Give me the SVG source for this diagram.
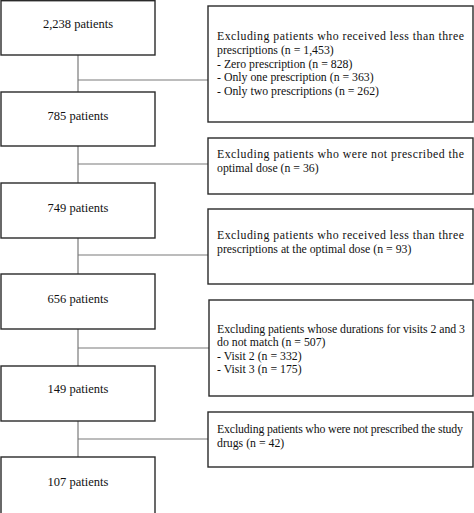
<svg xmlns="http://www.w3.org/2000/svg" width="474" height="513" viewBox="0 0 474 513">
<style>
.box{fill:#fff;stroke:#2a2a2a;stroke-width:1.4}
.ln{fill:none;stroke:#7a7a7a;stroke-width:1.2}
text{font-family:"Liberation Serif","Times New Roman",serif;font-size:11.8px;fill:#111}
.c{text-anchor:middle;font-size:12.5px}
</style>
<rect width="474" height="513" fill="#fff"/>
<g id="connectors">
<line class="ln" x1="78" y1="55" x2="78" y2="92"/>
<line class="ln" x1="78" y1="80" x2="208" y2="80"/>
<line class="ln" x1="78" y1="146" x2="78" y2="183"/>
<line class="ln" x1="78" y1="164" x2="208" y2="164"/>
<line class="ln" x1="78" y1="238" x2="78" y2="274"/>
<line class="ln" x1="78" y1="255" x2="208" y2="255"/>
<line class="ln" x1="78" y1="329" x2="78" y2="366"/>
<line class="ln" x1="78" y1="348" x2="209" y2="348"/>
<line class="ln" x1="78" y1="421" x2="78" y2="457"/>
<line class="ln" x1="78" y1="439" x2="208" y2="439"/>
</g>
<g id="n1"><rect class="box" x="1" y="0.7" width="154" height="54.3"/><text class="c" x="78" y="28">2,238 patients</text></g>
<g id="n2"><rect class="box" x="1" y="92" width="154" height="54"/><text class="c" x="78" y="120">785 patients</text></g>
<g id="n3"><rect class="box" x="1" y="183" width="154" height="55"/><text class="c" x="78" y="212">749 patients</text></g>
<g id="n4"><rect class="box" x="1" y="274" width="154" height="55"/><text class="c" x="78" y="303">656 patients</text></g>
<g id="n5"><rect class="box" x="1" y="366" width="154" height="55"/><text class="c" x="78" y="393">149 patients</text></g>
<g id="n6"><rect class="box" x="1" y="457" width="154" height="60"/><text class="c" x="78" y="486">107 patients</text></g>
<g id="r1"><rect class="box" x="208" y="6" width="265" height="116"/>
<text x="217" y="40" textLength="247" lengthAdjust="spacing">Excluding patients who received less than three</text>
<text x="217" y="54">prescriptions (n = 1,453)</text>
<text x="217" y="67.5">- Zero prescription (n = 828)</text>
<text x="217" y="81">- Only one prescription (n = 363)</text>
<text x="217" y="94.5">- Only two prescriptions (n = 262)</text></g>
<g id="r2"><rect class="box" x="208" y="138" width="265" height="56"/>
<text x="217" y="158" textLength="247" lengthAdjust="spacing">Excluding patients who were not prescribed the</text>
<text x="217" y="171.5">optimal dose (n = 36)</text></g>
<g id="r3"><rect class="box" x="208" y="209" width="265" height="75"/>
<text x="217" y="239" textLength="247" lengthAdjust="spacing">Excluding patients who received less than three</text>
<text x="217" y="252.5">prescriptions at the optimal dose (n = 93)</text></g>
<g id="r4"><rect class="box" x="209" y="300" width="264" height="96"/>
<text x="217" y="333" textLength="248" lengthAdjust="spacing">Excluding patients whose durations for visits 2 and 3</text>
<text x="217" y="346">do not match (n = 507)</text>
<text x="217" y="359.5">- Visit 2 (n = 332)</text>
<text x="217" y="373">- Visit 3 (n = 175)</text></g>
<g id="r5"><rect class="box" x="208" y="412" width="265" height="55"/>
<text x="217" y="433" textLength="246" lengthAdjust="spacing">Excluding patients who were not prescribed the study</text>
<text x="217" y="446.5">drugs (n = 42)</text></g>
</svg>
